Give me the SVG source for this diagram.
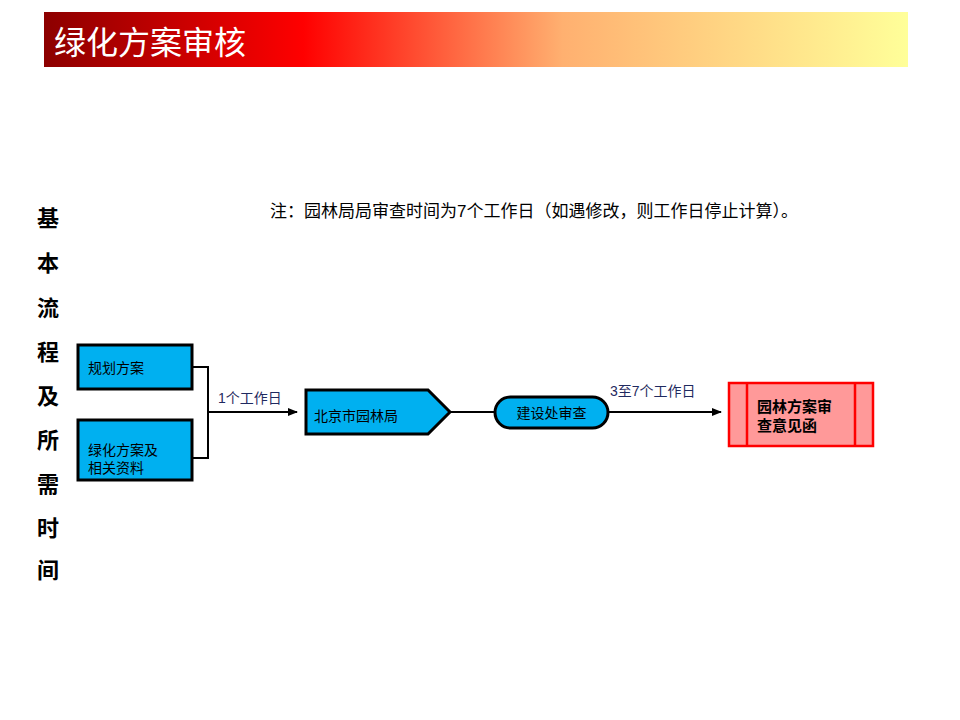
<svg xmlns="http://www.w3.org/2000/svg" width="960" height="720" viewBox="0 0 960 720">
<defs>
<linearGradient id="hg" x1="0" x2="1" y1="0" y2="0">
<stop offset="0" stop-color="#8c0000"/><stop offset="0.3" stop-color="#ff0000"/><stop offset="0.6" stop-color="#ffb070"/><stop offset="1" stop-color="#ffff99"/>
</linearGradient>
<marker id="ar" markerWidth="10" markerHeight="10" refX="9" refY="5" orient="auto" markerUnits="userSpaceOnUse"><path d="M0,1 L10,5 L0,9 z" fill="#000"/></marker>
</defs>
<style>
text{font-family:"Liberation Sans","Noto Sans CJK SC",sans-serif}
.b{fill:#00b0f0;stroke:#000;stroke-width:3}
.t{font-size:14px;fill:#000}
.c{stroke:#000;stroke-width:2;fill:none}
.v{font-size:22px;font-weight:bold}
</style>
<rect x="0" y="0" width="960" height="720" fill="#fff"/>
<rect x="44" y="12" width="864" height="55" fill="url(#hg)"/>
<text x="54" y="54" font-size="32" fill="#fff">绿化方案审核</text>
<text x="270" y="217" font-size="17">注：园林局局审查时间为7个工作日（如遇修改，则工作日停止计算）。</text>
<g class="v" text-anchor="middle">
<text x="48" y="226" class="v">基</text><text x="48" y="271" class="v">本</text><text x="48" y="316" class="v">流</text><text x="48" y="360" class="v">程</text><text x="48" y="404" class="v">及</text><text x="48" y="448" class="v">所</text><text x="48" y="492" class="v">需</text><text x="48" y="536" class="v">时</text><text x="48" y="578" class="v">间</text>
</g>
<g id="connectors">
<path class="c" d="M192,367 H208 V458 H192"/>
<path class="c" d="M208,412 H297" marker-end="url(#ar)"/>
<path class="c" d="M450,412 H495"/>
<path class="c" d="M608,412 H721" marker-end="url(#ar)"/>
<text x="218" y="403" font-size="14" fill="#1f2a60">1个工作日</text>
<text x="610" y="396" font-size="14" fill="#1f2a60">3至7个工作日</text>
</g>
<g id="n1"><rect class="b" x="78" y="345" width="114" height="44"/><text class="t" x="88" y="373">规划方案</text></g>
<g id="n2"><rect class="b" x="78" y="420" width="114" height="60"/><text class="t" x="88" y="455">绿化方案及</text><text class="t" x="88" y="473">相关资料</text></g>
<g id="n3"><path class="b" d="M306,390 H428 L450,412 L428,434 H306 Z"/><text class="t" x="314" y="421">北京市园林局</text></g>
<g id="n4"><rect class="b" x="495" y="397" width="113" height="31" rx="15.5"/><text class="t" x="551.5" y="418" text-anchor="middle">建设处审查</text></g>
<g id="n5"><rect x="729" y="383" width="144" height="63" fill="#ff9999" stroke="#ff0000" stroke-width="2.5"/><path d="M747,383 V446 M855,383 V446" stroke="#ff0000" stroke-width="2.5"/><text x="757" y="412" font-size="15" font-weight="bold">园林方案审</text><text x="757" y="431" font-size="15" font-weight="bold">查意见函</text></g>
</svg>
